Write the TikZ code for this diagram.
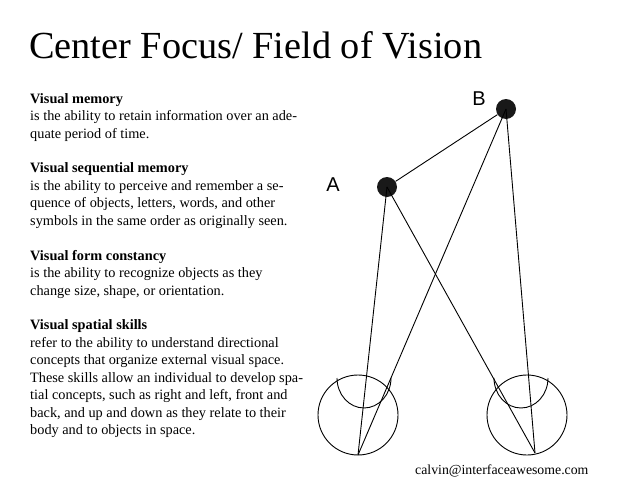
\documentclass[tikz,border=0pt]{standalone}
\usepackage{fontspec}
\setmainfont{Liberation Serif}
\setsansfont{Liberation Sans}
\begin{document}
\begin{tikzpicture}[x=1pt,y=-1pt,
  txt/.style={anchor=base west,inner sep=0pt,font=\fontsize{14.3}{16}\selectfont},
  hd/.style={txt,font=\fontsize{14.3}{16}\selectfont\bfseries},
  dot/.style={circle,fill=black!90,inner sep=0pt,minimum size=20pt},
  ln/.style={line width=0.9pt}]
\useasboundingbox (0,0) rectangle (638,493);
\node[anchor=base west,inner sep=0pt,font=\fontsize{38.3}{42}\selectfont] (title) at (29,58) {Center Focus/ Field of Vision};
\foreach \t/\y/\s [count=\i] in {
 {Visual memory}/103/hd,
 {is the ability to retain information over an ade-}/120/txt,
 {quate period of time.}/138/txt,
 {Visual sequential memory}/172/hd,
 {is the ability to perceive and remember a se-}/190/txt,
 {quence of objects, letters, words, and other}/207/txt,
 {symbols in the same order as originally seen.}/225/txt,
 {Visual form constancy}/260/hd,
 {is the ability to recognize objects as they}/277/txt,
 {change size, shape, or orientation.}/295/txt,
 {Visual spatial skills}/329/hd,
 {refer to the ability to understand directional}/347/txt,
 {concepts that organize external visual space.}/364/txt,
 {These skills allow an individual to develop spa-}/382/txt,
 {tial concepts, such as right and left, front and}/399/txt,
 {back, and up and down as they relate to their}/417/txt,
 {body and to objects in space.}/434/txt}
 \node[\s] (l\i) at (30,\y) {\t};
\node[anchor=base west,inner sep=0pt,font=\fontsize{13.8}{15}\selectfont] (mail) at (415,474) {calvin@interfaceawesome.com};
\node[dot] (A) at (387,187) {};
\node[dot] (B) at (506,109) {};
\node[font=\sffamily\fontsize{20}{24}\selectfont] (la) at (333,185) {A};
\node[font=\sffamily\fontsize{20}{24}\selectfont] (lb) at (479,99) {B};
\coordinate (L) at (358,455);
\coordinate (R) at (535,453);
\draw[ln] (358,415) circle (40);
\draw[ln] (527,415) circle (40);
\draw[ln] (337,378) arc[start angle=180,end angle=0,x radius=27,y radius=30];
\draw[ln] (494,378) arc[start angle=180,end angle=0,x radius=27,y radius=30];
\draw[ln] (A) -- (B);
\draw[ln] (A.center) -- (L);
\draw[ln] (A.center) -- (R);
\draw[ln] (B.center) -- (L);
\draw[ln] (B.center) -- (R);
\end{tikzpicture}
\end{document}
